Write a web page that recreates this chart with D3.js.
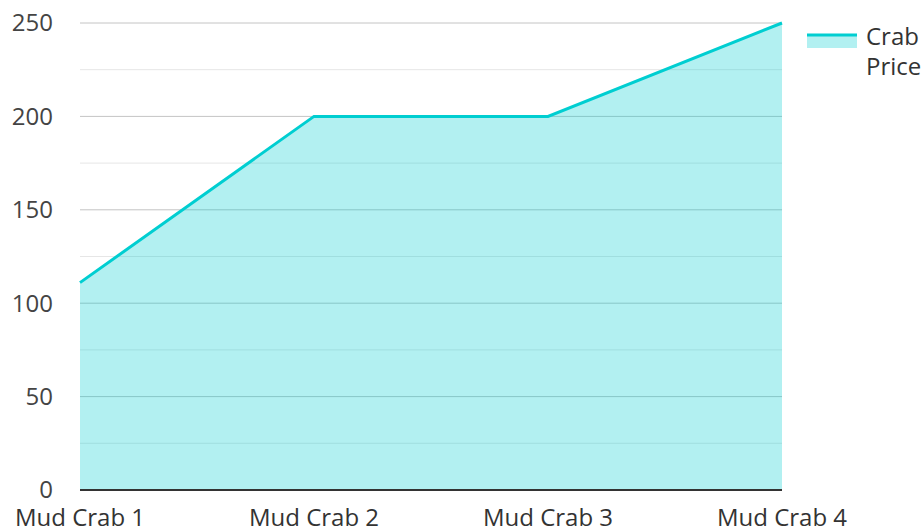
<!DOCTYPE html>
<html><head><meta charset="utf-8">
<script src="https://cdn.jsdelivr.net/npm/d3@7"></script>
<style>body{margin:0;background:#fff;} svg{display:block;font-family:"Open Sans",sans-serif;}</style>
</head><body><svg id="c" width="924" height="531"></svg>
<script>
const categories = ["Mud Crab 1","Mud Crab 2","Mud Crab 3","Mud Crab 4"];
const prices = [111, 200, 200, 250];
const yTicks = [0,50,100,150,200,250];
const minorTicks = [25,75,125,175,225];
const seriesName = ["Crab","Price"];

const svg = d3.select("#c");
const m = {l:80, r:142, t:23, b:41};
const W = 924, H = 531;
const x = d3.scalePoint().domain(categories).range([m.l, W - m.r]);
const y = d3.scaleLinear().domain([0,250]).range([H - m.b, m.t]);

// grid
svg.append("g").selectAll("line").data(minorTicks).join("line")
  .attr("x1", m.l).attr("x2", W - m.r).attr("y1", d=>y(d)).attr("y2", d=>y(d))
  .attr("stroke", "#e6e6e6").attr("stroke-width", 1);
svg.append("g").selectAll("line").data(yTicks.filter(d=>d>0)).join("line")
  .attr("x1", m.l).attr("x2", W - m.r).attr("y1", d=>y(d)).attr("y2", d=>y(d))
  .attr("stroke", "#c4c4c4").attr("stroke-width", 1);

const data = categories.map((c,i)=>({c, v: prices[i]}));
svg.append("path").datum(data)
  .attr("d", d3.area().x(d=>x(d.c)).y0(y(0)).y1(d=>y(d.v)))
  .attr("fill", "#00CED1").attr("fill-opacity", 0.3);
svg.append("path").datum(data)
  .attr("d", d3.line().x(d=>x(d.c)).y(d=>y(d.v)))
  .attr("fill", "none").attr("stroke", "#00CED1").attr("stroke-width", 3);

// axis line
svg.append("line").attr("x1", m.l).attr("x2", W - m.r).attr("y1", y(0)).attr("y2", y(0))
  .attr("stroke", "#333").attr("stroke-width", 2);

// y labels
svg.append("g").selectAll("text").data(yTicks).join("text")
  .attr("x", 53).attr("y", d=>y(d)).attr("dy", "0.35em").attr("text-anchor", "end")
  .attr("font-size", 24).attr("fill", "#444").text(d=>d);

// x labels
svg.append("g").selectAll("text").data(categories).join("text")
  .attr("x", d=>x(d)).attr("y", 526).attr("text-anchor", "middle")
  .attr("font-size", 24).attr("fill", "#333").text(d=>d);

// legend
const lg = svg.append("g");
lg.append("rect").attr("x", 807).attr("y", 35).attr("width", 50).attr("height", 13)
  .attr("fill", "#00CED1").attr("fill-opacity", 0.3);
lg.append("line").attr("x1", 807).attr("x2", 857).attr("y1", 35).attr("y2", 35)
  .attr("stroke", "#00CED1").attr("stroke-width", 3);
lg.selectAll("text").data(seriesName).join("text")
  .attr("x", 866).attr("y", (d,i)=>45 + i*30)
  .attr("font-size", 24).attr("fill", "#333").text(d=>d);
</script></body></html>
